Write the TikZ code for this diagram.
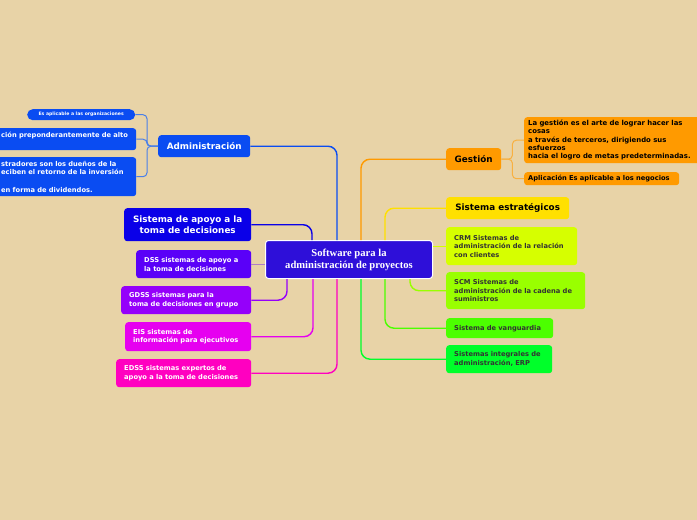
\documentclass[tikz,border=0pt]{standalone}
\usepackage{fontspec}
\newfontfamily\mapfont{DejaVu Sans}
\newfontfamily\corefont{Liberation Serif}
\definecolor{paper}{HTML}{E8D3A7}
\definecolor{core}{HTML}{2E0FD9}
\definecolor{admc}{HTML}{0A4CF2}
\definecolor{apoyoc}{HTML}{0A00E8}
\definecolor{dssc}{HTML}{5A00F8}
\definecolor{gdssc}{HTML}{9500FA}
\definecolor{eisc}{HTML}{E600F0}
\definecolor{edssc}{HTML}{FF00C0}
\definecolor{gesc}{HTML}{FF9A00}
\definecolor{estc}{HTML}{FFE000}
\definecolor{crmc}{HTML}{D6FF00}
\definecolor{scmc}{HTML}{99FF00}
\definecolor{vanc}{HTML}{4CFF00}
\definecolor{erpc}{HTML}{00FF2A}
\definecolor{admlink}{HTML}{4A7FE8}
\definecolor{geslink}{HTML}{F8B040}
\begin{document}
\begin{tikzpicture}[x=1pt,y=-1pt,
  topic/.style={anchor=north west,rounded corners=3pt,inner sep=0pt,align=center,
    font=\mapfont\bfseries\fontsize{8.8}{10.4}\selectfont},
  leaf/.style={anchor=north west,rounded corners=3pt,inner xsep=8pt,inner ysep=0pt,align=left,
    font=\mapfont\bfseries\fontsize{6.7}{8.6}\selectfont},
  link/.style={line width=1.4pt,rounded corners=9pt},
  sublink/.style={line width=1pt,rounded corners=4pt}]
\clip (0,0) rectangle (697,520);
\fill[paper] (0,0) rectangle (697,520);
% central topic
\node[anchor=north west,rounded corners=3pt,fill=core,draw=white,line width=1pt,
  minimum width=167pt,minimum height=38pt,inner sep=0pt,align=center,text=white,
  font=\corefont\bfseries\fontsize{10.6}{12}\selectfont](sw)at(265,240){Software para la\\administración de proyectos};
% left side
\node[topic,fill=admc,text=white,minimum width=92pt,minimum height=22pt](adm)at(158,135){Administración};
\node[topic,fill=apoyoc,text=white,minimum width=127pt,minimum height=33pt](apoyo)at(124,208){Sistema de apoyo a la\\toma de decisiones};
\node[leaf,fill=dssc,text=white,text width=99pt,minimum height=28pt](dss)at(136,250){DSS sistemas de apoyo a\\la toma de decisiones};
\node[leaf,fill=gdssc,text=white,text width=114pt,minimum height=28pt](gdss)at(121,286){GDSS sistemas para la\\toma de decisiones en grupo};
\node[leaf,fill=eisc,text=white,text width=110pt,minimum height=29pt](eis)at(125,322){EIS sistemas de\\información para ejecutivos};
\node[leaf,fill=edssc,text=white,text width=119pt,minimum height=28pt](edss)at(116,359){EDSS sistemas expertos de\\apoyo a la toma de decisiones};
% Administración children
\node[anchor=north west,rounded corners=5.5pt,fill=admc,text=white,minimum width=108pt,minimum height=11pt,
  inner sep=0pt,font=\mapfont\bfseries\fontsize{4.6}{5}\selectfont](a1)at(27,109){Es aplicable a las organizaciones};
\node[leaf,inner xsep=8pt,fill=admc,text=white,text width=127pt,minimum height=22pt](a2)at(-7,128){ción preponderantemente de alto\\\mbox{}};
\node[leaf,inner xsep=8pt,fill=admc,text=white,text width=127pt,minimum height=39pt](a3)at(-7,157){stradores son los dueños de la\\eciben el retorno de la inversión\\\mbox{}\\en forma de dividendos.};
% right side
\node[topic,fill=gesc,text=black,minimum width=55pt,minimum height=22pt](ges)at(446,148){Gestión};
\node[leaf,inner xsep=4pt,fill=gesc,text=black,text width=175pt,minimum height=46pt,
  font=\mapfont\bfseries\fontsize{6.9}{8.3}\selectfont](g1)at(524,117){La gestión es el arte de lograr hacer las\\cosas\\a través de terceros, dirigiendo sus\\esfuerzos\\hacia el logro de metas predeterminadas.};
\node[leaf,inner xsep=4pt,fill=gesc,text=black,text width=147pt,minimum height=13pt](g2)at(524,172){Aplicación Es aplicable a los negocios};
\node[topic,fill=estc,text=black,minimum width=123pt,minimum height=22pt](est)at(446,197){Sistema estratégicos};
\node[leaf,fill=crmc,text=black!80,text width=115pt,minimum height=38pt](crm)at(446,227){CRM Sistemas de\\administración de la relación\\con clientes};
\node[leaf,fill=scmc,text=black!80,text width=123pt,minimum height=37pt](scm)at(446,272){SCM Sistemas de\\administración de la cadena de\\suministros};
\node[leaf,fill=vanc,text=black!80,text width=91pt,minimum height=20pt](van)at(446,318){Sistema de vanguardia};
\node[leaf,fill=erpc,text=black!80,text width=90pt,minimum height=28pt](erp)at(446,345){Sistemas integrales de\\administración, ERP};
% connectors to the central topic
\draw[link,admc](adm.east)-|([xshift=72pt]sw.north west);
\draw[link,apoyoc](apoyo.east)-|([xshift=47pt]sw.north west);
\draw[link,dssc!40!paper](dss.east)--(dss.east-|sw.west);
\draw[link,gdssc](gdss.east)-|([xshift=22pt]sw.south west);
\draw[link,eisc](eis.east)-|([xshift=48pt]sw.south west);
\draw[link,edssc](edss.east)-|([xshift=72pt]sw.south west);
\draw[link,gesc](ges.west)-|([xshift=96pt]sw.north west);
\draw[link,estc](est.west)-|([xshift=120pt]sw.north west);
\draw[link,crmc](crm.west)--(crm.west-|sw.east);
\draw[link,scmc](scm.west)-|([xshift=145pt]sw.south west);
\draw[link,vanc](van.west)-|([xshift=120pt]sw.south west);
\draw[link,erpc](erp.west)-|([xshift=96pt]sw.south west);
% sub-branches
\draw[sublink,admlink](adm.west)--++(-11,0)|-(a1.east);
\draw[sublink,admlink](adm.west)--++(-11,0)|-(a2.east);
\draw[sublink,admlink](adm.west)--++(-11,0)|-(a3.east);
\draw[sublink,geslink](ges.east)--++(11,0)|-(g1.west);
\draw[sublink,geslink](ges.east)--++(11,0)|-(g2.west);
\end{tikzpicture}
\end{document}
